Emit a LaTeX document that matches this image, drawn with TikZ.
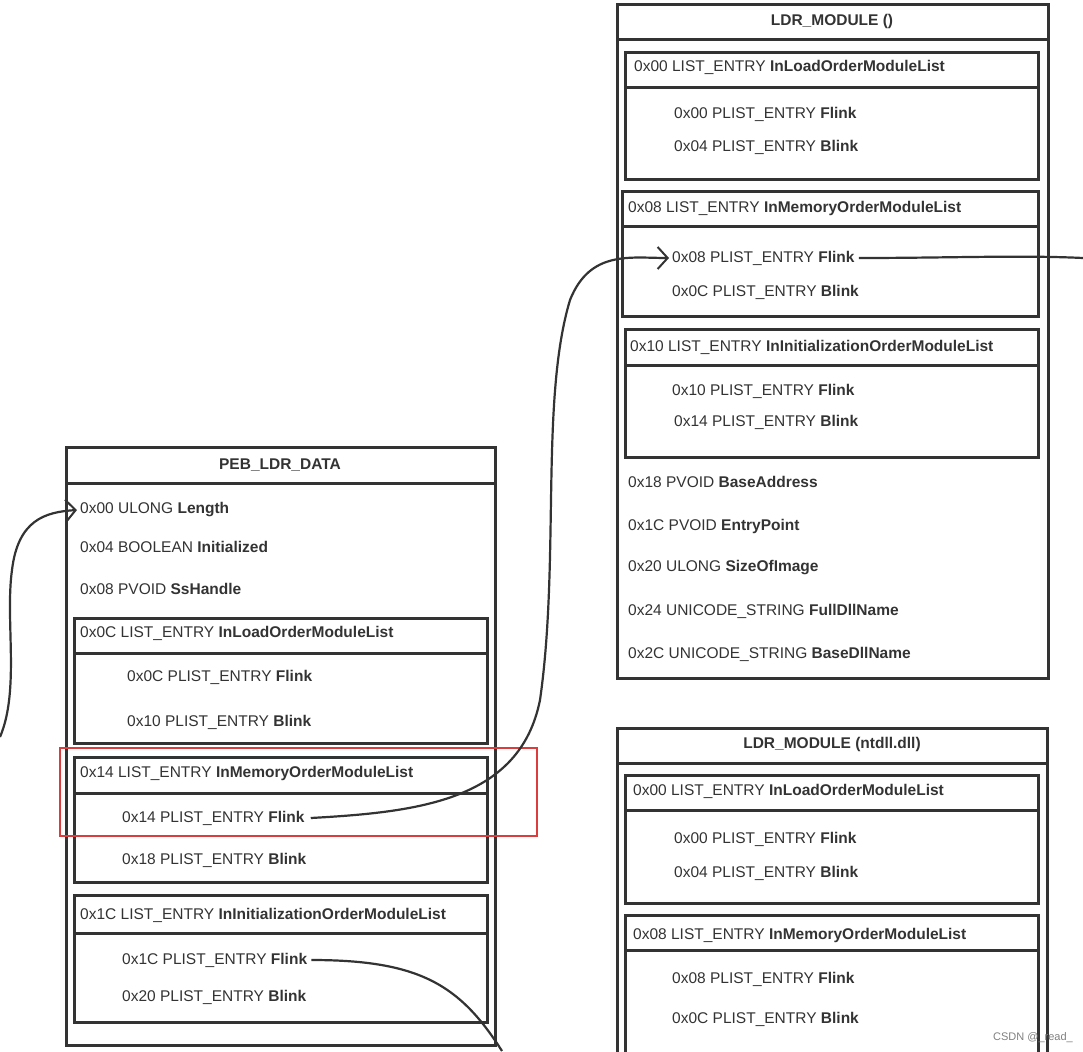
\documentclass[tikz,border=0pt]{standalone}
\usepackage{fontspec}
\setmainfont{Liberation Sans}
\usetikzlibrary{arrows.meta}
\definecolor{ln}{HTML}{333333}
\definecolor{tx}{HTML}{333333}
\begin{document}
\begin{tikzpicture}[x=1pt,y=-1pt,
  box/.style={draw=ln,line width=3pt},
  txt/.style={anchor=west,inner sep=0pt,text=tx,font=\fontsize{15.5}{18}\selectfont},
  ttl/.style={anchor=center,inner sep=0pt,text=tx,font=\fontsize{15.5}{18}\selectfont\bfseries},
  con/.style={draw=ln,line width=2.2pt},
  tip/.style={-{Straight Barb[length=10pt,width=22pt,line width=2pt]}}]
\useasboundingbox (0,0) rectangle (1083,1051);
% PEB_LDR_DATA
\draw[box] (66,447) rectangle (495,1045); \draw[box] (66,483)--(495,483);
\node[ttl] (p0) at (280,465) {PEB\_LDR\_DATA};
\node[txt] (p1) at (80,510) {0x00 ULONG \textbf{Length}};
\node[txt] (p2) at (80,547) {0x04 BOOLEAN \textbf{Initialized}};
\node[txt] (p3) at (80,589) {0x08 PVOID \textbf{SsHandle}};
\draw[box] (74,618) rectangle (487,743); \draw[box] (74,653)--(487,653);
\node[txt] (p4) at (80,633) {0x0C LIST\_ENTRY \textbf{InLoadOrderModuleList}};
\node[txt] (p5) at (127,677) {0x0C PLIST\_ENTRY \textbf{Flink}};
\node[txt] (p6) at (127,722) {0x10 PLIST\_ENTRY \textbf{Blink}};
\draw[box] (74,757) rectangle (487,882); \draw[box] (74,793)--(487,793);
\node[txt] (p7) at (80,773) {0x14 LIST\_ENTRY \textbf{InMemoryOrderModuleList}};
\node[txt] (p8) at (122,818) {0x14 PLIST\_ENTRY \textbf{Flink}};
\node[txt] (p9) at (122,860) {0x18 PLIST\_ENTRY \textbf{Blink}};
\draw[box] (74,895) rectangle (487,1022); \draw[box] (74,933)--(487,933);
\node[txt] (p10) at (80,915) {0x1C LIST\_ENTRY \textbf{InInitializationOrderModuleList}};
\node[txt] (p11) at (122,960) {0x1C PLIST\_ENTRY \textbf{Flink}};
\node[txt] (p12) at (122,997) {0x20 PLIST\_ENTRY \textbf{Blink}};
\draw[draw={rgb,255:red,220;green,60;blue,60},line width=1.8pt] (60,748) rectangle (537,836);
% LDR_MODULE ()
\draw[box] (617,5) rectangle (1048,678); \draw[box] (617,40)--(1048,40);
\node[ttl] (m0) at (832,21) {LDR\_MODULE ()};
\draw[box] (625,53) rectangle (1038,180); \draw[box] (625,88)--(1038,88);
\node[txt] (m1) at (634,67) {0x00 LIST\_ENTRY \textbf{InLoadOrderModuleList}};
\node[txt] (m2) at (674,114) {0x00 PLIST\_ENTRY \textbf{Flink}};
\node[txt] (m3) at (674,147) {0x04 PLIST\_ENTRY \textbf{Blink}};
\draw[box] (622,191) rectangle (1038,316); \draw[box] (622,226)--(1038,226);
\node[txt] (m4) at (628,208) {0x08 LIST\_ENTRY \textbf{InMemoryOrderModuleList}};
\node[txt] (m5) at (672,258) {0x08 PLIST\_ENTRY \textbf{Flink}};
\node[txt] (m6) at (672,292) {0x0C PLIST\_ENTRY \textbf{Blink}};
\draw[box] (625,329) rectangle (1038,457); \draw[box] (625,365)--(1038,365);
\node[txt] (m7) at (630,347) {0x10 LIST\_ENTRY \textbf{InInitializationOrderModuleList}};
\node[txt] (m8) at (672,391) {0x10 PLIST\_ENTRY \textbf{Flink}};
\node[txt] (m9) at (674,422) {0x14 PLIST\_ENTRY \textbf{Blink}};
\node[txt] (m10) at (628,482) {0x18 PVOID \textbf{BaseAddress}};
\node[txt] (m11) at (628,526) {0x1C PVOID \textbf{EntryPoint}};
\node[txt] (m12) at (628,568) {0x20 ULONG \textbf{SizeOfImage}};
\node[txt] (m13) at (628,611) {0x24 UNICODE\_STRING \textbf{FullDllName}};
\node[txt] (m14) at (628,654) {0x2C UNICODE\_STRING \textbf{BaseDllName}};
% LDR_MODULE (ntdll.dll)
\draw[box] (617,728) rectangle (1047,1060); \draw[box] (617,763)--(1047,763);
\node[ttl] (n0) at (832,744) {LDR\_MODULE (ntdll.dll)};
\draw[box] (625,775) rectangle (1038,903); \draw[box] (625,810)--(1038,810);
\node[txt] (n1) at (633,791) {0x00 LIST\_ENTRY \textbf{InLoadOrderModuleList}};
\node[txt] (n2) at (674,839) {0x00 PLIST\_ENTRY \textbf{Flink}};
\node[txt] (n3) at (674,873) {0x04 PLIST\_ENTRY \textbf{Blink}};
\draw[box] (625,915) rectangle (1038,1060); \draw[box] (625,950)--(1038,950);
\node[txt] (n4) at (633,935) {0x08 LIST\_ENTRY \textbf{InMemoryOrderModuleList}};
\node[txt] (n5) at (672,979) {0x08 PLIST\_ENTRY \textbf{Flink}};
\node[txt] (n6) at (672,1019) {0x0C PLIST\_ENTRY \textbf{Blink}};
\node[anchor=south east,inner sep=2pt,text=gray,font=\fontsize{11}{13}\selectfont] (wm) at (1075,1045) {CSDN @\_read\_};
% connectors
\coordinate (c1) at (0,737);
\coordinate (c2) at (1083,258);
\coordinate (c3) at (502,1051);
\draw[con,tip] (c1) .. controls (20,690) and (5,620) .. (12,570) .. controls (18,520) and (45,512) .. ([xshift=-3pt]p1.west);
\draw[con,tip] ([xshift=6pt]p8.east) .. controls (420,812) and (520,800) .. (540,700) .. controls (560,560) and (540,400) .. (570,300) .. controls (590,250) and (630,258) .. ([xshift=-3pt]m5.west);
\draw[con] ([xshift=4pt]m5.east) .. controls (950,258) and (1020,255) .. (c2);
\draw[con] ([xshift=4pt]p11.east) .. controls (420,960) and (460,985) .. (c3);
\end{tikzpicture}
\end{document}
